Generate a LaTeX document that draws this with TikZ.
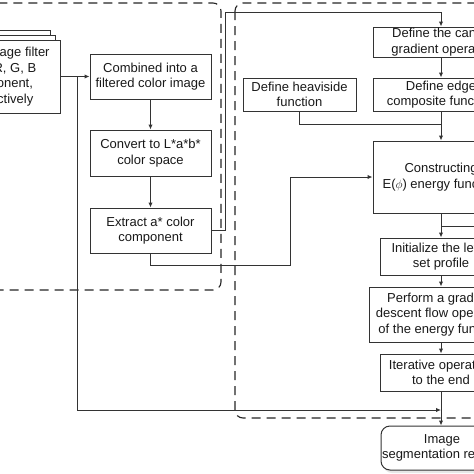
\documentclass[tikz,border=0pt]{standalone}
\usepackage{fontspec}
\setmainfont{Liberation Sans}
\usetikzlibrary{arrows.meta,shadows}
\begin{document}
\begin{tikzpicture}[x=1pt,y=-1pt,
  box/.style={draw=black!80, line width=1pt, fill=white, align=center, inner sep=0pt,
    font=\fontsize{13}{15.5}\selectfont, text=black!90},
  arr/.style={-{Latex[length=5pt,width=4.5pt]}, draw=black!80, line width=1pt},
  ln/.style={draw=black!80, line width=1pt},
  region/.style={draw=black!85, line width=1.1pt, dash pattern=on 9pt off 6pt, rounded corners=8pt}]
\useasboundingbox (0,0) rectangle (474,474);
\clip (0,0) rectangle (474,474);
\fill[white] (0,0) rectangle (474,474);
% dashed regions
\draw[region] (-30,3) rectangle (221,290);
\draw[region] (235,3) rectangle (520,418);
% stacked input box
\draw[ln, fill=white] (-72,30) rectangle (50,103);
\draw[ln, fill=white] (-67,35) rectangle (55,108);
\node[box, minimum width=122pt, minimum height=73pt] (stack) at (-1,76.5)
  {The average filter\\each R, G, B\\component,\\respectively};
% left column
\node[box, minimum width=121pt, minimum height=45pt] (comb) at (150.5,76.5) {Combined into a\\filtered color image};
\node[box, minimum width=121pt, minimum height=46pt] (conv) at (150.5,153) {Convert to L*a*b*\\color space};
\node[box, minimum width=121pt, minimum height=45pt] (ext) at (150.5,230.5) {Extract a* color\\component};
% right column
\node[box, minimum width=113pt, minimum height=33pt] (heav) at (299.5,94.5) {Define heaviside\\function};
\node[box, minimum width=136pt, minimum height=30pt] (canny) at (441,42) {Define the canny\\gradient operator};
\node[box, minimum width=136pt, minimum height=33pt] (edge) at (441,94.5) {Define edge\\composite function};
\node[box, minimum width=136pt, minimum height=72pt] (cons) at (441,177) {Constructing\\E($\phi$) energy function};
\node[box, minimum width=122pt, minimum height=37pt] (init) at (441,256.5) {Initialize the level\\set profile};
\node[box, minimum width=144pt, minimum height=55pt] (perf) at (441,314.5) {Perform a gradient\\descent flow operation\\of the energy function};
\node[box, minimum width=122pt, minimum height=37pt] (iter) at (441,372.5) {Iterative operation\\to the end};
\node[box, rounded corners=9pt, minimum width=122pt, minimum height=44pt,
  drop shadow={shadow xshift=2pt, shadow yshift=-3pt, fill=black!18}] (img) at (442,448) {Image\\segmentation results};
% coordinates
\coordinate (j1) at (77,76.5);
\coordinate (jn) at (441,410);
\coordinate (tp) at (441,12);
\coordinate (c1) at (290,265);
\coordinate (hj) at (441,124);
\coordinate (br) at (441,226);
\coordinate (brE) at (480,226);
% connectors
\draw[arr] (stack.east) -- (comb.west);
\draw[arr] (j1) |- (jn);
\draw[arr] (comb) -- (conv);
\draw[arr] (conv) -- (ext);
\draw[arr] (ext.east) -- ++(14,0) |- (tp) -- (canny.north);
\draw[arr] (ext.south) |- (c1) |- (cons.west);
\draw[arr] (canny) -- (edge);
\draw[arr] (edge) -- (cons);
\draw[ln] (heav.south) |- (hj);
\draw[arr] (cons) -- (init);
\draw[ln] (br) -- (brE);
\draw[arr] (init) -- (perf);
\draw[arr] (perf) -- (iter);
\draw[arr] (iter.south) -- (iter.south |- img.north);
\end{tikzpicture}
\end{document}
